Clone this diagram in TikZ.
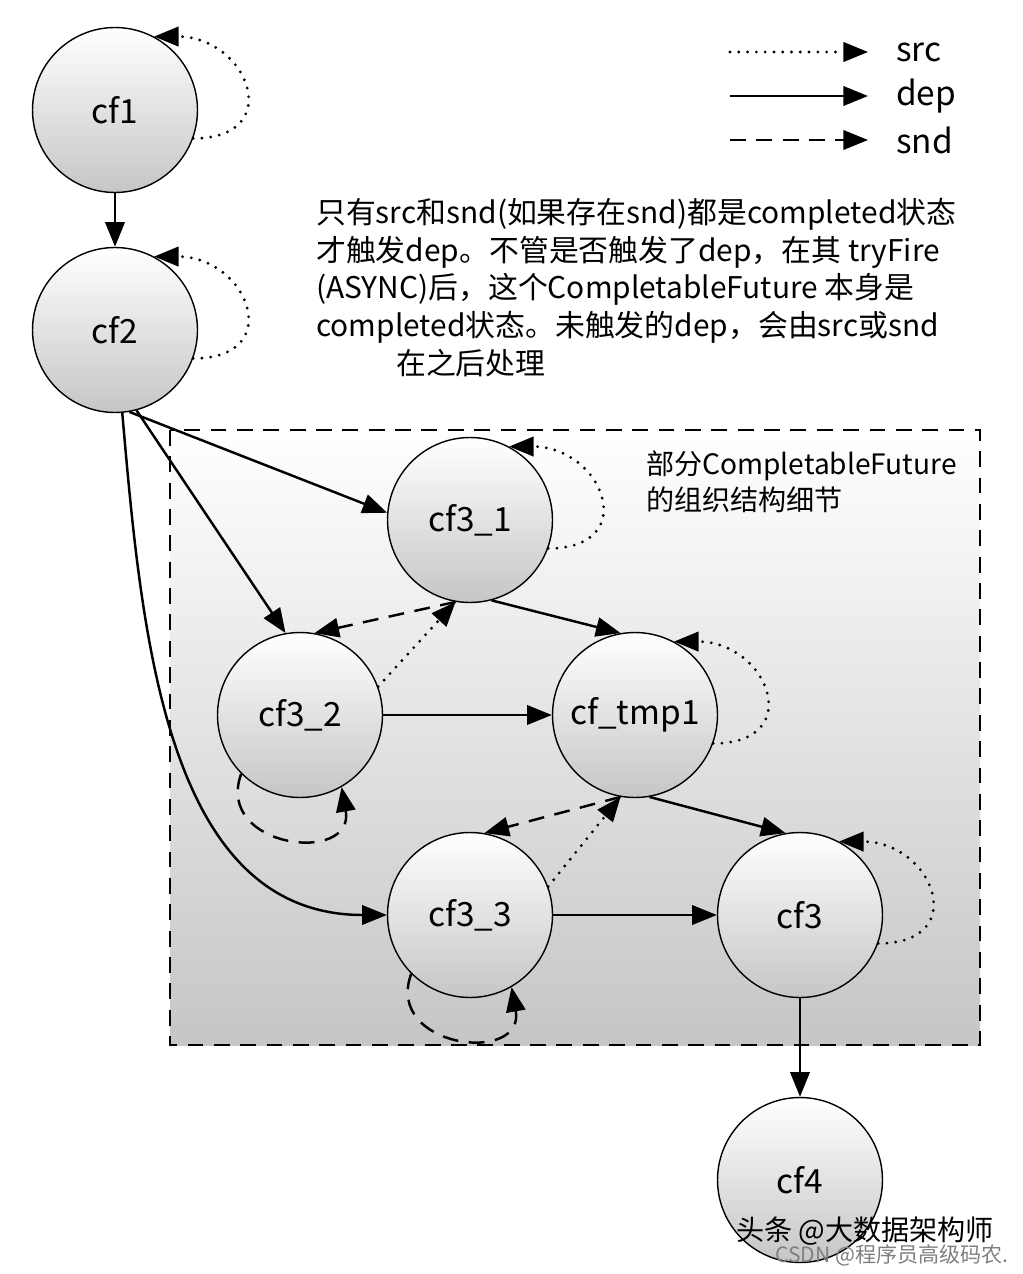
\documentclass[tikz,border=0pt]{standalone}
\usepackage{fontspec}
\setmainfont{Noto Sans CJK SC}
\usetikzlibrary{arrows.meta}
\begin{document}
\begin{tikzpicture}[x=0.02cm,y=-0.02cm,
  cfnode/.style={circle,draw,thick,minimum size=3.3cm,top color=white,bottom color=gray!45,font=\fontsize{19}{22}\selectfont},
  tip/.style={-{Triangle[length=14pt,width=11pt]}},
  src/.style={tip,line width=1.8pt,line cap=round,dash pattern=on 0pt off 5pt},
  dep/.style={tip,line width=1.4pt},
  snd/.style={tip,line width=1.4pt,dash pattern=on 9pt off 6pt}]
\useasboundingbox (0,0) rectangle (1022,1274);
\fill[white] (0,0) rectangle (1022,1274);
% area
\draw[top color=white,bottom color=gray!45,line width=1.4pt,dash pattern=on 9pt off 6pt] (170,430) rectangle (980,1045);
\node[anchor=north west,align=left,font=\fontsize{16}{20}\selectfont] (area) at (640,445) {部分CompletableFuture\\的组织结构细节};
% nodes
\foreach \name/\x/\y/\txt in {cf1/115/110/cf1,cf2/115/330/cf2,cf31/470/520/cf3\_1,cf32/300/715/cf3\_2,tmp/635/715/cf\_tmp1,cf33/470/915/cf3\_3,cf3/800/915/cf3,cf4/800/1180/cf4}
\node[cfnode] (\name) at (\x,\y) {\txt};
% legend
\foreach \y/\s/\t in {52/src/src,96/dep/dep,140/snd/snd}
{\coordinate (l\t) at (730,\y);
\coordinate (e\t) at (868,\y);
\node[anchor=west,font=\fontsize{19}{22}\selectfont] (t\t) at (890,\y) {\t};
\draw[\s] (l\t) -- (e\t);}
\node[anchor=north west,align=left,font=\fontsize{17}{21.5}\selectfont] (note) at (310,192) {只有src和snd(如果存在snd)都是completed状态\\才触发dep。不管是否触发了dep，在其 tryFire\\(ASYNC)后，这个CompletableFuture 本身是\\completed状态。未触发的dep，会由src或snd\\\hspace*{1.6cm}在之后处理};
% dep
\draw[dep] (cf1) -- (cf2);
\draw[dep] (cf2.-80) -- (cf31.175);
\draw[dep] (cf2.-75) -- (cf32.100);
\draw[dep] (cf2.-85) to[out=-85,in=180] (cf33.180);
\draw[dep] (cf31.-75) -- (tmp.100);
\draw[dep] (cf32) -- (tmp);
\draw[dep] (tmp.-80) -- (cf3.100);
\draw[dep] (cf33) -- (cf3);
\draw[dep] (cf3) -- (cf4);
% snd
\draw[snd] (cf31.-100) -- (cf32.80);
\draw[snd] (tmp.-100) -- (cf33.80);
\draw[snd] (cf32.-135) to[out=-110,in=-80,looseness=2] (cf32.-60);
\draw[snd] (cf33.-135) to[out=-110,in=-80,looseness=2] (cf33.-60);
% src
\draw[src] (cf32.20) -- (cf31.-100);
\draw[src] (cf33.20) -- (tmp.-100);
\foreach \n in {cf1,cf2,cf31,tmp,cf3}
\draw[src] (\n.-20) to[out=0,in=0,looseness=2.2] (\n.62);
% marks
\node[anchor=south east,font=\fontsize{16}{18}\selectfont] (m1) at (1000,1252) {头条 @大数据架构师};
\node[anchor=south east,text=gray,font=\fontsize{12}{14}\selectfont] (m2) at (1015,1272) {CSDN @程序员高级码农.};
\end{tikzpicture}
\end{document}
